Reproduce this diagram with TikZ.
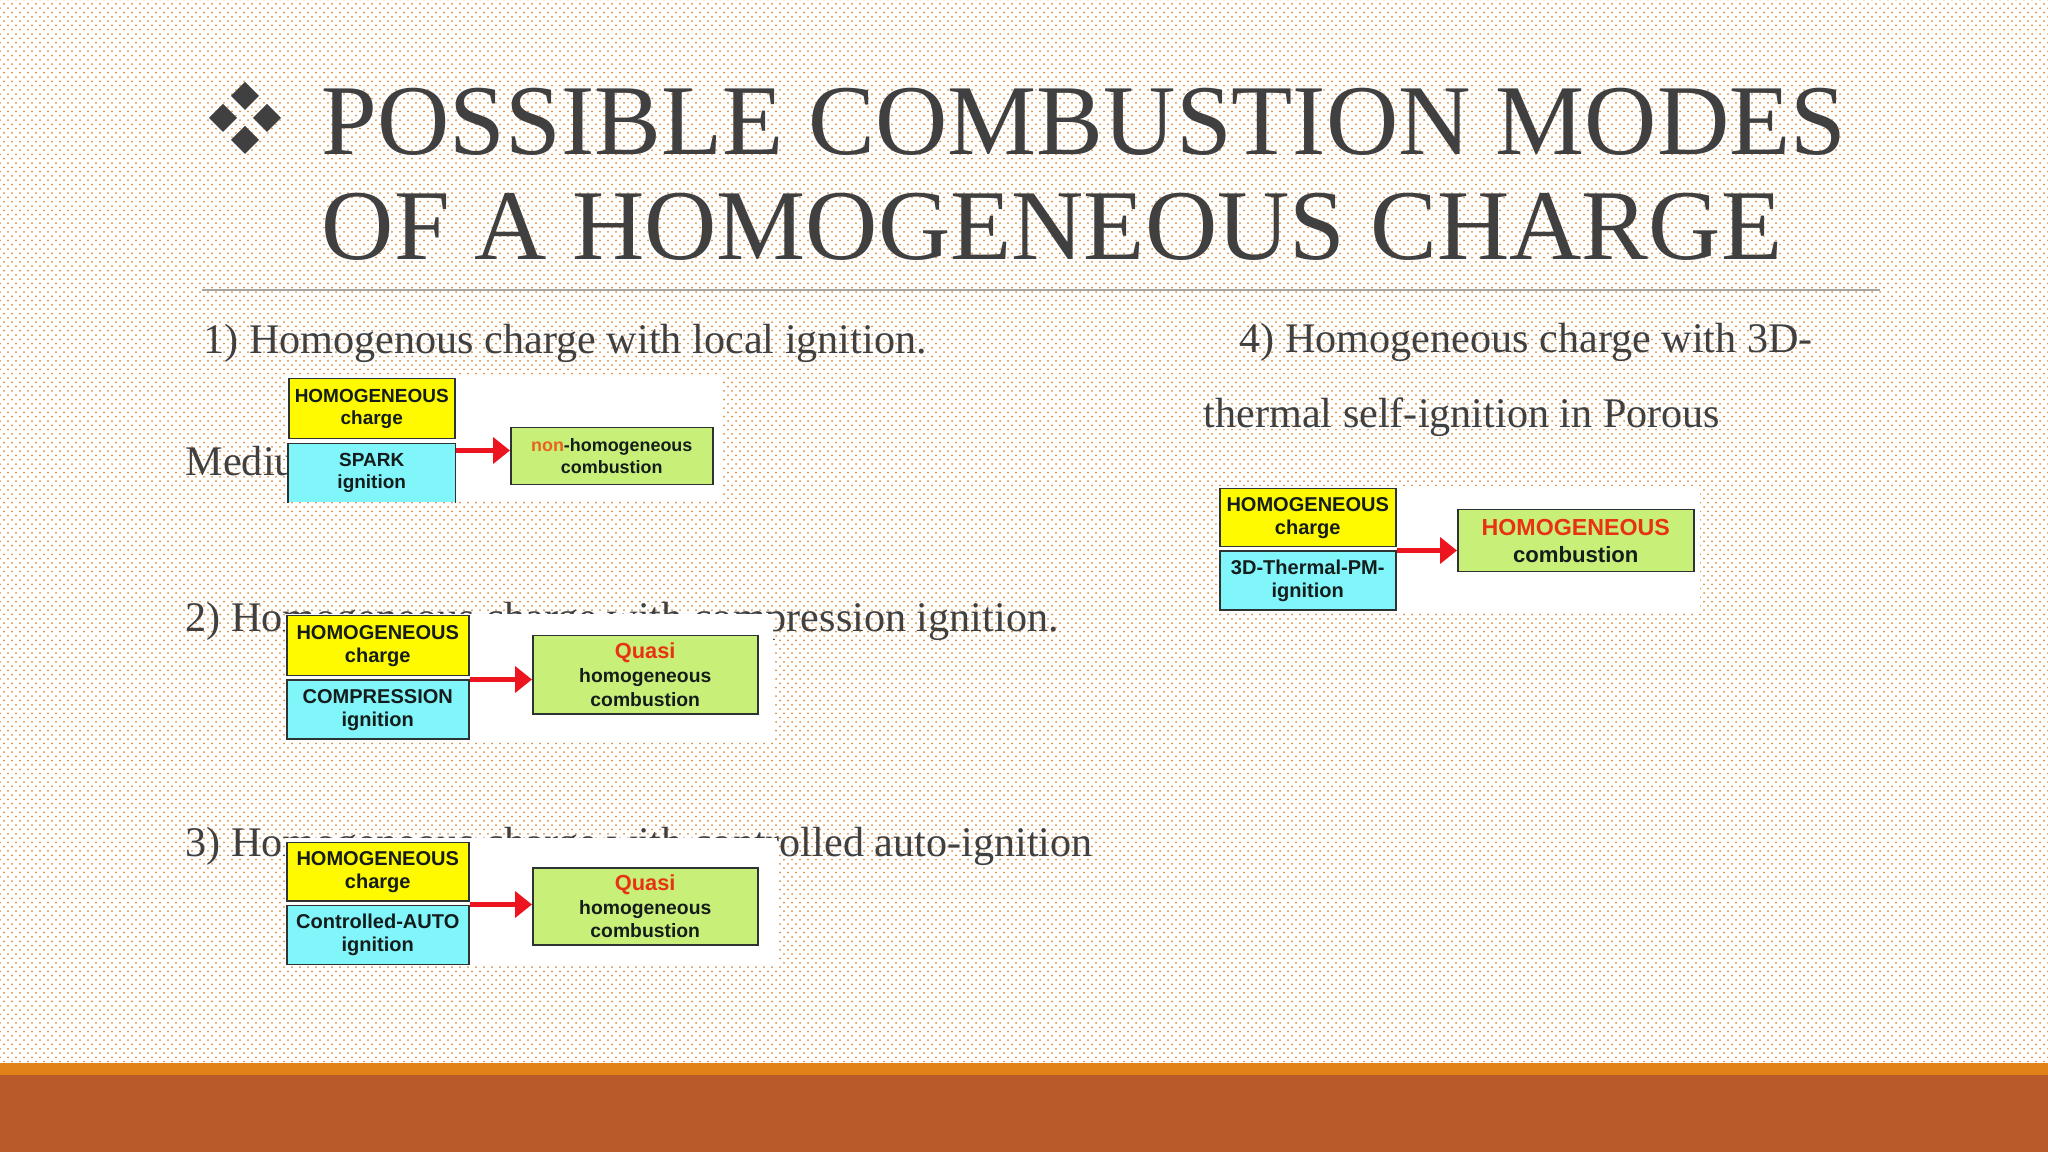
\documentclass[tikz,border=0pt]{standalone}
\usepackage{fontspec}
\setmainfont{Liberation Serif}
\newfontfamily\boxfont{Liberation Sans}
\usetikzlibrary{arrows.meta,positioning,patterns.meta}

\definecolor{slidegray}{RGB}{64,64,64}
\definecolor{rulegray}{RGB}{165,165,165}
\definecolor{dotorange}{RGB}{222,140,60}
\definecolor{barorange}{RGB}{224,130,24}
\definecolor{barrust}{RGB}{184,90,42}
\definecolor{hcyellow}{RGB}{255,250,0}
\definecolor{hccyan}{RGB}{128,245,250}
\definecolor{hcgreen}{RGB}{200,240,120}
\definecolor{hcred}{RGB}{232,50,20}
\definecolor{hcorange}{RGB}{232,100,30}
\definecolor{boxline}{RGB}{45,50,50}
\definecolor{boxtext}{RGB}{20,28,28}
\definecolor{arrowred}{RGB}{236,20,30}

\tikzdeclarepattern{
  name=slidedots,
  type=uncolored,
  bottom left={(-0.01,-0.01)},
  top right={(0.05,0.053)},
  tile size={(0.08,0.086)},
  code={
    \fill (0,0) circle (0.01);
    \fill (0.04,0.043) circle (0.01);
  }
}

\tikzstyle{cbox} = [rectangle, draw=boxline, line width=0.015cm, inner sep=0pt,
    align=center, text=boxtext]
\tikzstyle{flow} = [draw=arrowred, line width=0.045cm, -{Triangle[length=0.17cm,width=0.26cm]}]
\tikzstyle{item} = [anchor=base west, inner sep=0pt, text=slidegray,
    font=\fontsize{12}{14}\selectfont]
\tikzstyle{headline} = [anchor=base west, inner sep=0pt, text=slidegray,
    font=\fontsize{28.5}{34}\selectfont]

\begin{document}
\begin{tikzpicture}
  \useasboundingbox (0,0) rectangle (20.48,-11.52);
  % Slide background
  \fill[white] (0,0) rectangle (20.48,-10.63);
  \fill[pattern=slidedots, pattern color=dotorange] (0,0) rectangle (20.48,-10.63);
  \fill[barorange] (0,-10.63) rectangle (20.48,-10.75);
  \fill[barrust] (0,-10.75) rectangle (20.48,-11.52);

  % Title
  \foreach \dx/\dy in {0/0.22, -0.22/0, 0.22/0, 0/-0.22}
    \fill[slidegray] (2.45+\dx,-1.18+\dy) +(0.14,0) -- +(0,0.14) -- +(-0.14,0) -- +(0,-0.14) -- cycle;
  \node[headline] (title1) at (3.21,-1.55) {POSSIBLE COMBUSTION MODES};
  \node[headline] (title2) at (3.21,-2.60) {OF A HOMOGENEOUS CHARGE};
  \draw[rulegray, line width=0.02cm] (2.02,-2.90) -- (18.80,-2.90);

  % Items
  \node[item] (item1) at (2.03,-3.54) {1) Homogenous charge with local ignition.};
  \node[item] (medium) at (1.85,-4.76) {Medium};
  \node[item] (item2) at (1.85,-6.32) {2) Homogeneous charge with compression ignition.};
  \node[item] (item3) at (1.85,-8.56) {3) Homogeneous charge with controlled auto-ignition};
  \node[item] (item4a) at (12.39,-3.53) {4) Homogeneous charge with 3D-};
  \node[item] (item4b) at (12.03,-4.28) {thermal self-ignition in Porous};

  % Insets
  \fill[white] (2.87,-3.77) rectangle (7.23,-5.00);
  \fill[white] (2.85,-6.14) rectangle (7.73,-7.40);
  \fill[white] (2.85,-8.38) rectangle (7.77,-9.65);
  \fill[white] (12.17,-4.86) rectangle (17.00,-6.12);

  % Place nodes
  \begin{scope}[font=\boxfont\bfseries\fontsize{5.4}{6.3}\selectfont]
    \node[cbox, fill=hcyellow, minimum width=1.66cm, minimum height=0.60cm, anchor=north west] (chg1) at (2.88,-3.78) {HOMOGENEOUS\\charge};
    \node[cbox, draw=none, fill=hccyan, minimum width=1.66cm, minimum height=0.58cm, below=0.04cm of chg1] (ign1) {SPARK\\ignition};
    \node[cbox, fill=hcgreen, minimum width=2.02cm, minimum height=0.57cm, anchor=north west,
      font=\boxfont\bfseries\fontsize{5.1}{6.3}\selectfont] (comb1) at (5.10,-4.27) {\textcolor{hcorange}{non}-homogeneous\\combustion};
  \end{scope}
  \draw[boxline, line width=0.015cm] (ign1.south west) |- (ign1.north east) -- (ign1.south east);

  \begin{scope}[font=\boxfont\bfseries\fontsize{5.7}{6.5}\selectfont]
    \node[cbox, fill=hcyellow, minimum width=1.82cm, minimum height=0.60cm, anchor=north west] (chg2) at (2.86,-6.15) {HOMOGENEOUS\\charge};
    \node[cbox, fill=hccyan, minimum width=1.82cm, minimum height=0.59cm, below=0.03cm of chg2] (ign2) {COMPRESSION\\ignition};
    \node[cbox, fill=hcgreen, minimum width=2.25cm, minimum height=0.78cm, anchor=north west,
      font=\boxfont\bfseries\fontsize{5.5}{6.8}\selectfont] (comb2) at (5.32,-6.35) {\textcolor{hcred}{\fontsize{6.2}{6.8}\selectfont Quasi}\\homogeneous\\combustion};

    \node[cbox, fill=hcyellow, minimum width=1.82cm, minimum height=0.58cm, anchor=north west] (chg3) at (2.86,-8.42) {HOMOGENEOUS\\charge};
    \node[cbox, fill=hccyan, minimum width=1.82cm, minimum height=0.59cm, below=0.03cm of chg3] (ign3) {Controlled-AUTO\\ignition};
    \node[cbox, fill=hcgreen, minimum width=2.25cm, minimum height=0.77cm, anchor=north west,
      font=\boxfont\bfseries\fontsize{5.5}{6.8}\selectfont] (comb3) at (5.32,-8.67) {\textcolor{hcred}{\fontsize{6.2}{6.8}\selectfont Quasi}\\homogeneous\\combustion};

    \node[cbox, fill=hcyellow, minimum width=1.76cm, minimum height=0.58cm, anchor=north west] (chg4) at (12.19,-4.88) {HOMOGENEOUS\\charge};
    \node[cbox, fill=hccyan, minimum width=1.76cm, minimum height=0.59cm, below=0.03cm of chg4] (ign4) {3D-Thermal-PM-\\ignition};
    \node[cbox, fill=hcgreen, minimum width=2.36cm, minimum height=0.62cm, anchor=north west,
      font=\boxfont\bfseries\fontsize{6.3}{7.6}\selectfont] (comb4) at (14.57,-5.09) {\textcolor{hcred}{\fontsize{6.6}{7.6}\selectfont HOMOGENEOUS}\\combustion};
  \end{scope}

  % Draw edges
  \coordinate (a1) at ([yshift=-0.07cm]ign1.north east);
  \draw[flow] (a1) -- (a1 -| comb1.west);
  \draw[flow] (ign2.north east) -- (ign2.north east -| comb2.west);
  \draw[flow] (ign3.north east) -- (ign3.north east -| comb3.west);
  \draw[flow] (ign4.north east) -- (ign4.north east -| comb4.west);
\end{tikzpicture}
\end{document}
